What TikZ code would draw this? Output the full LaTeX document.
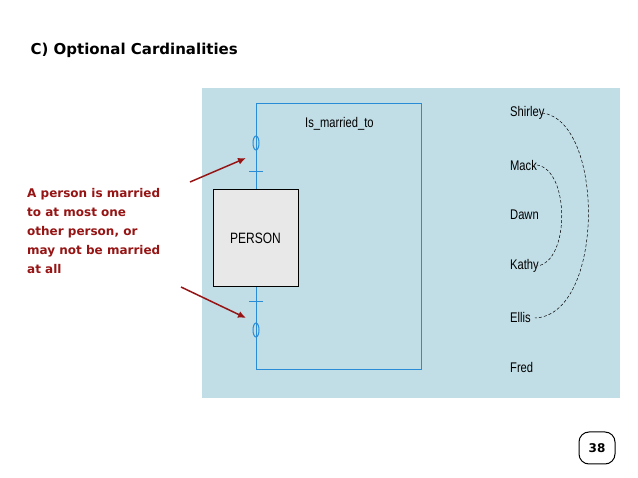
\documentclass[tikz,border=0pt]{standalone}
\usetikzlibrary{arrows.meta}
\usepackage{fontspec}
\setmainfont{DejaVu Sans}
\newfontfamily\narrowf{Liberation Sans}
\definecolor{panel}{RGB}{193,221,230}
\definecolor{erblue}{RGB}{40,140,215}
\definecolor{dred}{RGB}{150,20,20}
\definecolor{boxgray}{RGB}{232,232,232}
\begin{document}
\begin{tikzpicture}[x=1pt,y=-1pt,
 erline/.style={erblue, line width=1pt},
 lbl/.style={font=\narrowf\fontsize{14}{14}\selectfont, xscale=0.8, anchor=west, inner sep=0},
 redarrow/.style={dred, line width=1.5pt, -{Latex[length=8pt,width=7pt]}},
 pair/.style={black, densely dashed, line width=0.5pt}]
\useasboundingbox (0,0) rectangle (638,478);
\fill[white] (0,0) rectangle (638,478);
\node[anchor=west,font=\bfseries\fontsize{15}{15}\selectfont] (title) at (27,50) {C) Optional Cardinalities};
\fill[panel] (202,88) rectangle (620,398);
\draw[erline] (256,190) -- (256,104) -- (421,104) -- (421,370) -- (256,370) -- (256,287);
\draw[erline] (256,143) ellipse (3 and 7);
\draw[erline] (256,330) ellipse (3 and 7);
\draw[erline] (249,172) -- (263,172);
\draw[erline] (249,302) -- (263,302);
\node[draw=black, line width=1pt, fill=boxgray, minimum width=85pt, minimum height=97pt, inner sep=0] (person) at (255.5,238.5) {};
\node[font=\narrowf\fontsize{15}{15}\selectfont, xscale=0.8] (pl) at (person.center) {PERSON};
\node[lbl] (rel) at (305,124) {Is\_married\_to};
\node[lbl] (shirley) at (510,113) {Shirley};
\node[lbl] (mack) at (510,165) {Mack};
\node[lbl] (dawn) at (510,215) {Dawn};
\node[lbl] (kathy) at (510,266) {Kathy};
\node[lbl] (ellis) at (510,317) {Ellis};
\node[lbl] (fred) at (510,367) {Fred};
\draw[pair] (542,113) .. controls (605,120) and (605,315) .. (535,318);
\draw[pair] (537,165) .. controls (570,170) and (570,262) .. (537,266);
\node[anchor=north west, align=left, text=dred, font=\bfseries\fontsize{12}{19}\selectfont, inner sep=0] (note) at (27,188) {A person is married\\to at most one\\other person, or\\may not be married\\at all};
\coordinate (t1) at (246,158);
\coordinate (t2) at (246,318);
\draw[redarrow] (190,182) -- (t1);
\draw[redarrow] (181,287) -- (t2);
\node[draw=black, line width=1pt, rounded corners=10pt, minimum width=36pt, minimum height=32pt, font=\bfseries\fontsize{12}{12}\selectfont] (num) at (597,448) {38};
\end{tikzpicture}
\end{document}
